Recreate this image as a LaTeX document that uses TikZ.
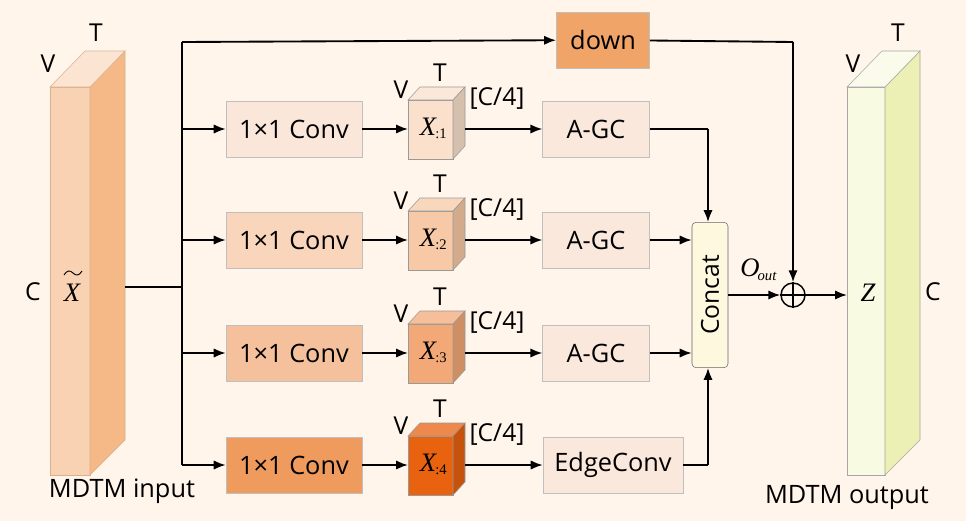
\documentclass[tikz,border=0pt]{standalone}
\usepackage{fontspec}
\setmainfont{Open Sans}
\newfontfamily\tms{Liberation Serif}
\usetikzlibrary{arrows.meta}
\begin{document}
\begin{tikzpicture}[x=0.75pt,y=-0.75pt,
 box/.style={draw=black!25,minimum height=42pt,inner sep=0pt,font=\fontsize{19}{19}\selectfont},
 arr/.style={line width=1.4pt,-{Latex[length=9pt,width=7pt]}},
 ln/.style={line width=1.4pt},
 lab/.style={font=\fontsize{18.5}{18.5}\selectfont,inner sep=1pt},
 mth/.style={font=\fontsize{20}{20}\selectfont\tms\itshape,inner sep=1pt}]
\useasboundingbox (0,0) rectangle (966,521);
\fill[orange!8] (0,0) rectangle (966,521);
% input block
\draw[draw=brown!60,fill={rgb,255:red,249;green,210;blue,180}] (50,87) -- (90,87) -- (90,475) -- (50,475) -- cycle;
\draw[draw=brown!60,fill={rgb,255:red,245;green,184;blue,135}] (90,87) -- (125,51) -- (125,440) -- (90,475) -- cycle;
\draw[draw=brown!60,fill={rgb,255:red,251;green,228;blue,210}] (50,87) -- (85,51) -- (125,51) -- (90,87) -- cycle;
\node[lab] (inV) at (48,64) {V};
\node[lab] (inT) at (96,33) {T};
\node[lab] (inC) at (33,292) {C};
\node[mth] (xt) at (72,293) {X};
\draw[line width=0.7pt] (64,275) .. controls (67,270) and (70,270) .. (73,273) .. controls (76,276) and (79,276) .. (82,271);
\node[lab,font=\fontsize{19}{19}\selectfont] (inlab) at (122,491) {MDTM input};
\coordinate (inR) at (125,287);
% output block
\draw[draw=black!35,fill={rgb,255:red,248;green,250;blue,226}] (847,87) -- (885,87) -- (885,475) -- (847,475) -- cycle;
\draw[draw=black!35,fill={rgb,255:red,237;green,240;blue,180}] (885,87) -- (920,51) -- (920,440) -- (885,475) -- cycle;
\draw[draw=black!35,fill={rgb,255:red,250;green,251;blue,235}] (847,87) -- (882,51) -- (920,51) -- (885,87) -- cycle;
\node[lab] (outV) at (853,64) {V};
\node[lab] (outT) at (898,33) {T};
\node[lab] (outC) at (933,292) {C};
\node[mth] (Z) at (868,293) {Z};
\coordinate (outL) at (847,295);
\node[lab,font=\fontsize{19}{19}\selectfont] (outlab) at (847,497) {MDTM output};
% down
\node[box,fill={rgb,255:red,240;green,164;blue,104},minimum width=70pt] (down) at (603,40) {down};
% branch
\coordinate (b0) at (182,287);
\coordinate (btop) at (182,42);
\coordinate (bbot) at (182,465);
\draw[ln] (inR) -- (b0);
\draw[ln] (btop) -- (bbot);
\draw[arr] (btop) -- (down);
% rows
\foreach \i/\y/\cf/\kf in {1/129/{251,231,217}/{251,225,204},2/240/{249,213,188}/{247,201,166},3/353/{245,192,156}/{243,168,119},4/465/{239,155,94}/{232,98,15}}{
 \definecolor{cfc}{RGB}{\cf}
 \definecolor{kfc}{RGB}{\kf}
 \node[box,fill=cfc,minimum width=102pt] (conv\i) at (294,\y) {1×1 Conv};
 \coordinate (bi\i) at (182,\y);
 \draw[arr] (bi\i) -- (conv\i);
 % cube
 \filldraw[fill=kfc,draw=black!40] (408,\y-29) rectangle (453,\y+30);
 \filldraw[fill=kfc!75!white,draw=black!40] (408,\y-29) -- (420,\y-42) -- (465,\y-42) -- (453,\y-29) -- cycle;
 \filldraw[fill=kfc!85!black,draw=black!40] (453,\y-29) -- (465,\y-42) -- (465,\y+17) -- (453,\y+30) -- cycle;
 \node[mth] (xl\i) at (428,\y-2) {X};
 \node[font=\fontsize{11}{11}\selectfont\tms,inner sep=0pt] (xs\i) at (441,\y+5) {:\i};
 \node[lab] (cv\i) at (401,\y-39) {V};
 \node[lab] (ct\i) at (440,\y-56) {T};
 \node[lab] (cc\i) at (497,\y-30) {[C/4]};
 \coordinate (cin\i) at (408,\y);
 \coordinate (cout\i) at (465,\y);
 \draw[arr] (conv\i) -- (cin\i);
}
\node[box,fill={rgb,255:red,251;green,232;blue,220},minimum width=80pt] (ag1) at (596,129) {A-GC};
\node[box,fill={rgb,255:red,251;green,232;blue,220},minimum width=80pt] (ag2) at (596,240) {A-GC};
\node[box,fill={rgb,255:red,251;green,232;blue,220},minimum width=80pt] (ag3) at (596,353) {A-GC};
\node[box,fill={rgb,255:red,251;green,232;blue,220},minimum width=105pt] (ag4) at (613,465) {EdgeConv};
\foreach \i in {1,2,3,4}{\draw[arr] (cout\i) -- (ag\i);}
% concat
\node[draw=black!60,rounded corners=3pt,fill={rgb,255:red,254;green,248;blue,223},minimum width=27pt,minimum height=109pt,inner sep=0pt] (cat) at (710,295) {};
\node[lab,rotate=90] (catl) at (cat.center) {Concat};
\coordinate (k1) at (708,129);
\coordinate (k4) at (708,465);
\draw[ln] (ag1) -- (k1);
\draw[arr] (k1) -- (k1|-cat.north);
\draw[ln] (ag4) -- (k4);
\draw[arr] (k4) -- (k4|-cat.south);
\draw[arr] (ag2) -- (ag2-|cat.west);
\draw[arr] (ag3) -- (ag3-|cat.west);
% oplus
\node[draw,circle,line width=1.1pt,minimum size=18pt,inner sep=0pt] (op) at (793,295) {};
\draw[line width=1.1pt] (op.north) -- (op.south) (op.west) -- (op.east);
\draw[arr] (cat) -- (op);
\node[mth] (oout) at (750,268) {O};
\node[font=\fontsize{11}{11}\selectfont\tms\itshape,inner sep=0pt] (oouts) at (767,276) {out};
\coordinate (dk) at (793,42);
\draw[ln] (down) -- (dk);
\draw[arr] (dk) -- (op);
\draw[arr] (op) -- (outL);
\end{tikzpicture}
\end{document}
